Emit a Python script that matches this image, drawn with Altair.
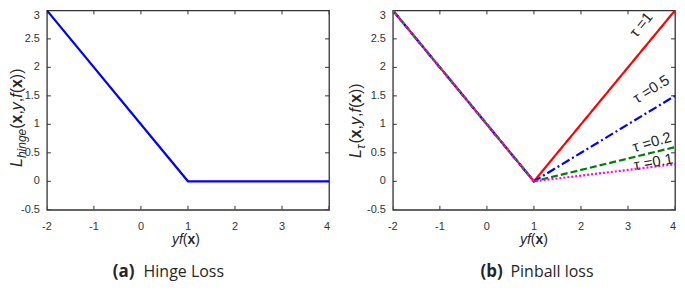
import altair as alt
import pandas as pd

# ---------------- data ----------------
x_ticks = [-2, -1, 0, 1, 2, 3, 4]
x_tick_labels = ["-2", "-1", "0", "1", "2", "3", "4"]
y_ticks = [-0.5, 0, 0.5, 1, 1.5, 2, 2.5, 3]
y_tick_labels = ["-0.5", "0", "0.5", "1", "1.5", "2", "2.5", "3"]

hinge_x = [-2, 1, 4]
hinge_y = [3, 0, 0]

pin_x = [-2, 1, 4]
taus = [1, 0.5, 0.2, 0.1]
pin_y_tau1 = [3, 0, 3]
pin_y_tau05 = [3, 0, 1.5]
pin_y_tau02 = [3, 0, 0.6]
pin_y_tau01 = [3, 0, 0.3]

tau_labels = ["\u03c4 =1", "\u03c4 =0.5", "\u03c4 =0.2", "\u03c4 =0.1"]
tau_label_x = [3.28, 3.49, 3.51, 3.54]
tau_label_y = [2.75, 1.62, 0.69, 0.34]
tau_label_angle = [309, 328, 344, 350]

# ---------------- style ----------------
W, H = 283, 200
GAP = 64
FRAME = "#333333"
TXT = "#262626"
LBL = "#333333"
FONT = "Liberation Sans"

xs = alt.Scale(domain=[-2, 4], nice=False, zero=False)
ys = alt.Scale(domain=[-0.5, 3], nice=False, zero=False)


def X(f):
    return alt.X(f, scale=xs, axis=None)


def Y(f):
    return alt.Y(f, scale=ys, axis=None)


EM = {"L": .556, "h": .556, "i": .222, "n": .556, "g": .556, "e": .556,
      "(": .333, ")": .333, "x": .5, "xb": .556, ",": .278, "y": .5, "f": .278,
      "\u03c4": .46}


def width(s, size, bold=False):
    tot = 0
    for c in s:
        k = "xb" if (bold and c == "x") else c
        tot += EM.get(k, .55)
    return tot * size


def txt(s, x, y, size=14, style="normal", weight="normal", angle=0, align="left",
        font=FONT, baseline="alphabetic", color=TXT):
    return alt.Chart(alt.Data(values=[{}])).mark_text(
        text=s, fontSize=size, fontStyle=style, fontWeight=weight, angle=angle,
        align=align, baseline=baseline, font=font, color=color
    ).encode(x=alt.value(x), y=alt.value(y))


def ticks_layers():
    tx = pd.DataFrame({"v": x_ticks, "t": x_tick_labels})
    ty = pd.DataFrame({"v": y_ticks, "t": y_tick_labels})
    L = 4
    out = []
    rule = dict(color=FRAME, strokeWidth=1, clip=True)
    out.append(alt.Chart(tx).mark_rule(**rule).encode(
        x=X("v:Q"), y=alt.value(H), y2=alt.value(H - L)))
    out.append(alt.Chart(tx).mark_rule(**rule).encode(
        x=X("v:Q"), y=alt.value(0), y2=alt.value(L)))
    out.append(alt.Chart(ty).mark_rule(**rule).encode(
        y=Y("v:Q"), x=alt.value(0), x2=alt.value(L)))
    out.append(alt.Chart(ty).mark_rule(**rule).encode(
        y=Y("v:Q"), x=alt.value(W), x2=alt.value(W - L)))
    lab = dict(font=FONT, fontSize=11, color=LBL)
    out.append(alt.Chart(tx[tx.v < 4]).mark_text(align="center", baseline="top", **lab).encode(
        x=X("v:Q"), y=alt.value(H + 11), text="t:N"))
    out.append(alt.Chart(tx[tx.v == 4]).mark_text(align="right", baseline="top", dx=1, **lab).encode(
        x=X("v:Q"), y=alt.value(H + 11), text="t:N"))
    out.append(alt.Chart(ty[ty.v < 3]).mark_text(align="right", baseline="middle", **lab).encode(
        y=Y("v:Q"), x=alt.value(-7), text="t:N"))
    out.append(alt.Chart(ty[ty.v == 3]).mark_text(align="right", baseline="top", **lab).encode(
        y=Y("v:Q"), x=alt.value(-7), text="t:N"))
    return out


def xtitle(cx, y):
    parts = [("y", "italic", "normal"), ("f", "italic", "normal"), ("(", "normal", "normal"),
             ("x", "normal", "bold"), (")", "normal", "normal")]
    size = 14
    total = sum(width(p, size, w == "bold") for p, s, w in parts)
    x = cx - total / 2
    out = []
    for p, s, w in parts:
        out.append(txt(p, x, y, size=size, style=s, weight=w))
        x += width(p, size, w == "bold")
    return out


def ytitle(sub, bx, y0, subsize):
    size = 16
    parts = [("L", size, "italic", "normal", 0), (sub, subsize, "italic", "normal", 4),
             ("(", size, "normal", "normal", 0), ("x", size, "normal", "bold", 0),
             (",", size, "normal", "normal", 0), ("y", size, "italic", "normal", 0),
             (",", size, "normal", "normal", 0), ("f", size, "italic", "normal", 0),
             ("(", size, "normal", "normal", 0), ("x", size, "normal", "bold", 0),
             ("))", size, "normal", "normal", 0)]
    y = y0
    out = []
    for p, sz, s, w, dx in parts:
        out.append(txt(p, bx + dx, y, size=sz, style=s, weight=w, angle=270))
        y -= width(p, sz, w == "bold")
    return out


CAP_Y = H + 67

# ---------------- left panel ----------------
hdf = pd.DataFrame({"x": hinge_x, "y": hinge_y})
left_layers = ticks_layers()
left_layers.append(alt.Chart(hdf).mark_line(color="#0000FF", strokeWidth=2.2, clip=True).encode(
    x=X("x:Q"), y=Y("y:Q")))
left_layers += xtitle(W / 2 - 2, H + 34)
left_layers += ytitle("hinge", -25, 157, 12)
left_layers.append(txt("(a)", 66, CAP_Y, size=17, weight="bold", font="Open Sans"))
left_layers.append(txt("Hinge Loss", 97, CAP_Y, size=16, font="Open Sans"))
left = alt.layer(*left_layers).properties(width=W, height=H)

# ---------------- right panel ----------------
series = [
    (pin_y_tau1, "#FF0000", [1, 0]),
    (pin_y_tau05, "#0000FF", [9, 3, 2, 3]),
    (pin_y_tau02, "#008000", [7, 3]),
    (pin_y_tau01, "#FF00FF", [2, 2]),
]
right_layers = ticks_layers()
for (yy, col, dash), t in zip(series, taus):
    d = pd.DataFrame({"x": pin_x, "y": yy, "tau": t})
    mk = alt.Chart(d).mark_line(color=col, strokeWidth=2.2, strokeDash=dash, clip=True)
    right_layers.append(mk.encode(x=X("x:Q"), y=Y("y:Q")))
for lab, lx, ly, ang in zip(tau_labels, tau_label_x, tau_label_y, tau_label_angle):
    d = pd.DataFrame({"x": [lx], "y": [ly], "t": [lab]})
    right_layers.append(alt.Chart(d).mark_text(
        fontSize=15, font=FONT, color=TXT, angle=ang, align="center", baseline="middle"
    ).encode(x=X("x:Q"), y=Y("y:Q"), text="t:N"))
right_layers += xtitle(W / 2, H + 34)
right_layers += ytitle("\u03c4", -32, 148, 12)
right_layers.append(txt("(b)", 88, CAP_Y, size=17, weight="bold", font="Open Sans"))
right_layers.append(txt("Pinball loss", 118, CAP_Y, size=16, font="Open Sans"))
right = alt.layer(*right_layers).properties(width=W, height=H)

chart = alt.hconcat(left, right, spacing=GAP, bounds="flush").configure_view(
    stroke=FRAME, strokeWidth=1.3
).properties(padding={"left": 0, "top": 0, "right": 0, "bottom": 0})

chart.save("out.html", embed_options={"renderer": "svg", "actions": False})
